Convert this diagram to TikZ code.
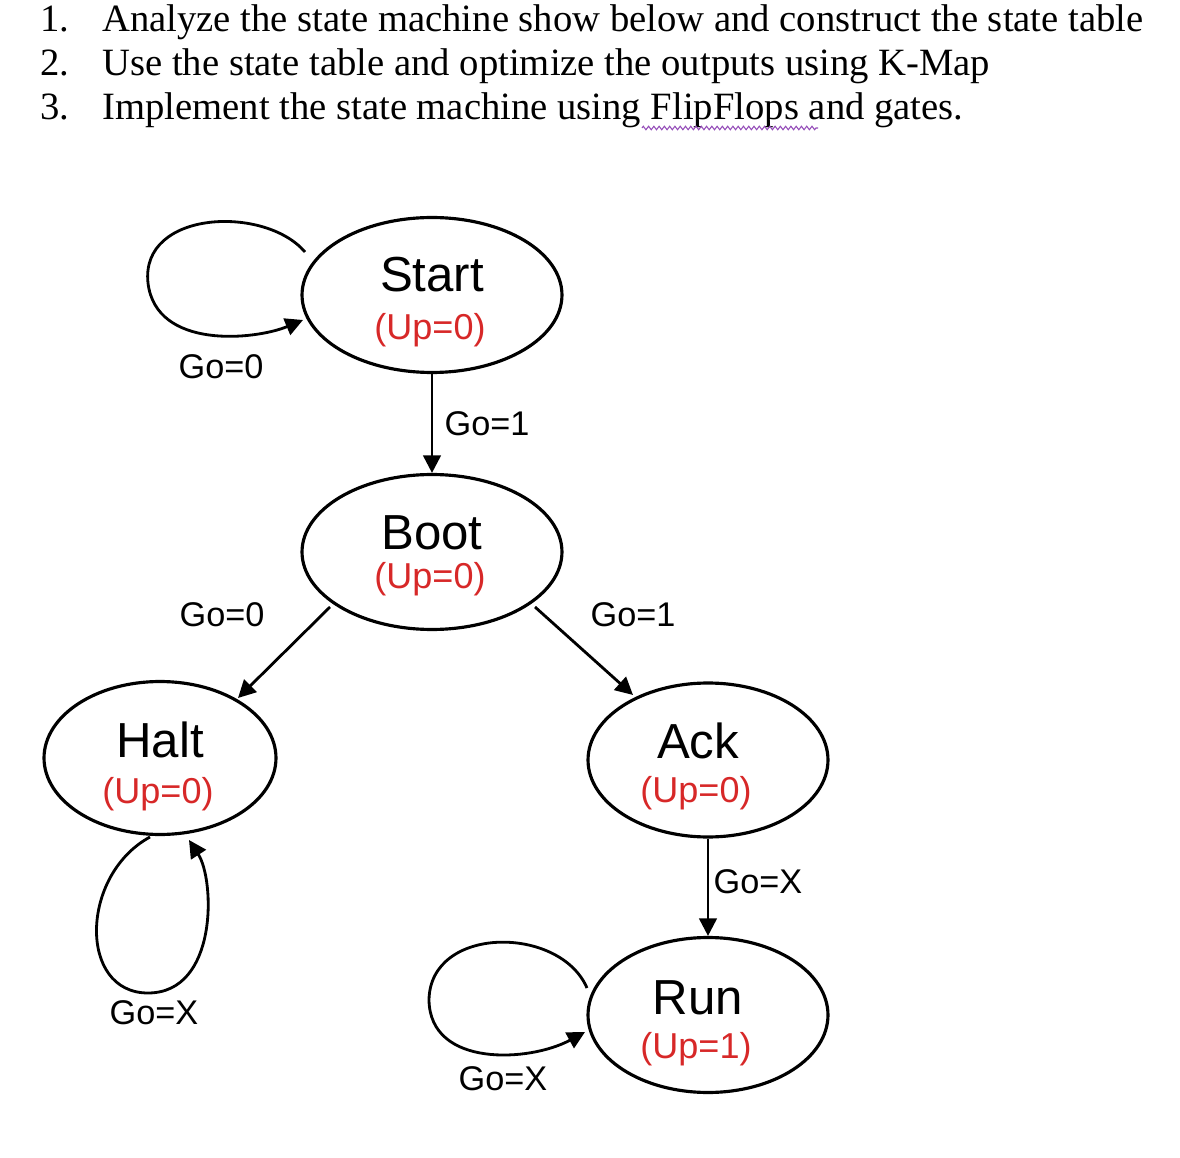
\documentclass[tikz,border=0pt]{standalone}
\usepackage{fontspec}
\setmainfont{Liberation Serif}
\newfontfamily\arialf{Liberation Sans}
\usetikzlibrary{shapes.geometric,arrows.meta,decorations.pathmorphing}
\definecolor{upred}{RGB}{215,40,40}
\begin{document}
\begin{tikzpicture}[x=0.02cm,y=-0.02cm,
  st/.style={draw,ellipse,line width=1.8pt,inner sep=0pt},
  nm/.style={font=\arialf\fontsize{28}{30}\selectfont,inner sep=0pt},
  up/.style={font=\arialf\fontsize{20.5}{22}\selectfont,text=upred,inner sep=0pt},
  go/.style={font=\arialf\fontsize{19.5}{22}\selectfont,inner sep=0pt},
  ar/.style={line width=1.6pt,-{Triangle[length=10pt,width=10pt]}},
  hd/.style={font=\fontsize{22}{26}\selectfont,anchor=base west,inner sep=0pt}]
\useasboundingbox (0,0) rectangle (1180,1158);
% header
\node[hd] (n1) at (40,32) {1.};
\node[hd] (t1) at (102,32) {Analyze the state machine show below and construct the state table};
\node[hd] (n2) at (40,76) {2.};
\node[hd] (t2) at (102,76) {Use the state table and optimize the outputs using K-Map};
\node[hd] (n3) at (40,120) {3.};
\node[hd] (t3) at (102,120) {Implement the state machine using FlipFlops and gates.};
\coordinate (w1) at (642,128);
\coordinate (w2) at (818,128);
\draw[blue!60!red!70,line width=0.6pt,decorate,decoration={zigzag,amplitude=1pt,segment length=3pt}] (w1) -- (w2);
% states
\node[st,minimum width=5.2cm,minimum height=3.1cm] (start) at (432,295) {};
\node[st,minimum width=5.2cm,minimum height=3.1cm] (boot) at (432,552) {};
\node[st,minimum width=4.64cm,minimum height=3.06cm] (halt) at (160,758) {};
\node[st,minimum width=4.8cm,minimum height=3.08cm] (ack) at (708,760) {};
\node[st,minimum width=4.8cm,minimum height=3.1cm] (run) at (708,1015) {};
\node[nm] (startT) at (432,275) {Start};
\node[up] (startU) at (430,330) {(Up=0)};
\node[nm] (bootT) at (432,533) {Boot};
\node[up] (bootU) at (430,579) {(Up=0)};
\node[nm] (haltT) at (160,740) {Halt};
\node[up] (haltU) at (158,794) {(Up=0)};
\node[nm] (ackT) at (698,741) {Ack};
\node[up] (ackU) at (696,793) {(Up=0)};
\node[nm] (runT) at (698,998) {Run};
\node[up] (runU) at (696,1049) {(Up=1)};
% labels
\node[go] (g1) at (221,367) {Go=0};
\node[go] (g2) at (487,424) {Go=1};
\node[go] (g3) at (222,615) {Go=0};
\node[go] (g4) at (633,615) {Go=1};
\node[go] (g5) at (154,1013) {Go=X};
\node[go] (g6) at (758,882) {Go=X};
\node[go] (g7) at (503,1079) {Go=X};
% edges
\draw[ar] (start.south) -- (boot.north);
\draw[ar] (ack.south) -- (run.north);
\coordinate (bh1) at (330,607); \coordinate (bh2) at (238,698);
\coordinate (ba1) at (535,607); \coordinate (ba2) at (633,695);
\draw[ar] (bh1) -- (bh2);
\draw[ar] (ba1) -- (ba2);
% loops
\coordinate (sl1) at (305,252); \coordinate (sl2) at (303,320);
\draw[ar] (sl1) .. controls (265,205) and (140,210) .. (148,283) .. controls (156,350) and (255,340) .. (sl2);
\coordinate (hl1) at (150,837); \coordinate (hl2) at (189,840);
\draw[ar] (hl1) .. controls (80,875) and (78,993) .. (148,993) .. controls (218,993) and (215,880) .. (hl2);
\coordinate (rl1) at (587,988); \coordinate (rl2) at (585,1032);
\draw[ar] (rl1) .. controls (560,925) and (430,925) .. (429,1000) .. controls (430,1068) and (530,1062) .. (rl2);
\end{tikzpicture}
\end{document}
